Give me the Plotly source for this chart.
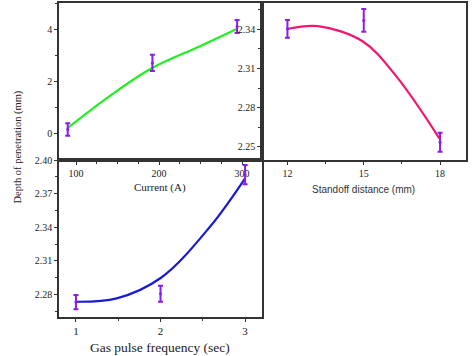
import plotly.graph_objects as go

# ---- data ----
# Panel 1: Current (A)
cur_pts_x = [90, 192, 294]
cur_pts_y = [0.165, 2.71, 4.10]
cur_err = [0.24, 0.31, 0.25]
cur_fit_x = [89.5, 140.9, 191.1, 249.3, 293.5]
cur_fit_y = [0.211, 1.45, 2.504, 3.35, 4.006]

# Panel 2: Standoff distance (mm)
sod_pts_x = [12, 15, 18]
sod_pts_y = [2.3403, 2.3467, 2.2536]
sod_err = [0.0068, 0.0087, 0.0073]
sod_fit_x = [12.0, 13.2, 14.98, 16.29, 17.97]
sod_fit_y = [2.3401, 2.3423, 2.3304, 2.3037, 2.2566]

# Panel 3: Gas pulse frequency (sec)
gpf_pts_x = [1, 2, 3]
gpf_pts_y = [2.2733, 2.2808, 2.3869]
gpf_err = [0.0064, 0.0071, 0.0086]
gpf_fit_x = [1.0, 1.482, 2.006, 2.585, 3.0]
gpf_fit_y = [2.2736, 2.2766, 2.2950, 2.3405, 2.3837]

cur_ticks = [100, 200, 300]
sod_ticks = [12, 15, 18]
gpf_ticks = [1, 2, 3]
p1_yticks = [0, 2, 4]
p2_yticks = [2.25, 2.28, 2.31, 2.34]
p3_yticks = [2.28, 2.31, 2.34, 2.37, 2.40]

ERR_COLOR = "#8a1cf0"
W, H = 474, 356

def px_x(p):
    return p / W

def px_y(p):
    return 1 - p / H

fig = go.Figure()

def add_panel(fx, fy, px, py, err, color, xa, ya):
    fig.add_trace(go.Scatter(x=fx, y=fy, mode="lines",
                             line=dict(color=color, width=2.2, shape="spline", smoothing=1.0),
                             xaxis=xa, yaxis=ya, hoverinfo="skip"))
    fig.add_trace(go.Scatter(x=px, y=py, mode="markers",
                             marker=dict(color=ERR_COLOR, size=3),
                             error_y=dict(type="data", array=err, visible=True, color=ERR_COLOR,
                                          thickness=2, width=2.5),
                             xaxis=xa, yaxis=ya))

add_panel(cur_fit_x, cur_fit_y, cur_pts_x, cur_pts_y, cur_err, "#22ee22", "x", "y")
add_panel(sod_fit_x, sod_fit_y, sod_pts_x, sod_pts_y, sod_err, "#f5146e", "x2", "y2")
add_panel(gpf_fit_x, gpf_fit_y, gpf_pts_x, gpf_pts_y, gpf_err, "#1a1ad6", "x3", "y3")

tickfont = dict(family="Liberation Serif", size=10, color="#222")
AX = dict(showline=True, linecolor="#333", linewidth=1.5, mirror=True, ticks="outside",
          ticklen=3, tickwidth=1, tickcolor="#333", showgrid=False, zeroline=False,
          tickfont=tickfont, fixedrange=True, automargin=False)

x_left = [px_x(59), px_x(262)]
x_right = [px_x(262), px_x(465.5)]
y_top = [px_y(160), px_y(3)]
y_bot = [px_y(317), px_y(160)]

def label(text, x, y, font, angle=0):
    return dict(text=text, x=px_x(x), y=px_y(y), xref="paper", yref="paper",
                xanchor="center", yanchor="middle", showarrow=False,
                textangle=angle, font=font)

fig.update_layout(
    width=W, height=H, margin=dict(l=0, r=0, t=0, b=0),
    paper_bgcolor="white", plot_bgcolor="white", showlegend=False,
    xaxis=dict(AX, domain=x_left, anchor="y", range=[79.5, 324], tickvals=cur_ticks,
               minor=dict(dtick=25, tick0=0, ticks="outside", ticklen=2, tickcolor="#333")),
    yaxis=dict(AX, domain=y_top, anchor="x", range=[-1, 5], tickvals=p1_yticks,
               minor=dict(dtick=1, tick0=0, ticks="outside", ticklen=2, tickcolor="#333")),
    xaxis2=dict(AX, domain=x_right, anchor="y2", range=[11, 19], tickvals=sod_ticks,
                minor=dict(dtick=1.5, tick0=12, ticks="outside", ticklen=2, tickcolor="#333")),
    yaxis2=dict(AX, domain=y_top, anchor="x2", range=[2.24, 2.36], tickvals=p2_yticks,
                tickformat=".2f",
                minor=dict(dtick=0.015, tick0=2.25, ticks="outside", ticklen=2, tickcolor="#333")),
    xaxis3=dict(AX, domain=x_left, anchor="y3", range=[0.8, 3.2], tickvals=gpf_ticks,
                tickfont=dict(family="Liberation Serif", size=11, color="#222"),
                minor=dict(dtick=0.5, tick0=1, ticks="outside", ticklen=2, tickcolor="#333")),
    yaxis3=dict(AX, domain=y_bot, anchor="x3", range=[2.26, 2.40], tickvals=p3_yticks,
                tickformat=".2f",
                minor=dict(dtick=0.015, tick0=2.28, ticks="outside", ticklen=2, tickcolor="#333")),
    annotations=[
        label("Current (A)", 159.5, 187.3, dict(family="Liberation Serif", size=11, color="#222")),
        label("Standoff distance (mm)", 363, 189.3, dict(family="Liberation Sans", size=10, color="#333")),
        label("Gas pulse frequency (sec)", 160, 347, dict(family="Liberation Serif", size=13.5, color="#222")),
        label("Depth of penetration (mm)", 17.5, 147, dict(family="Liberation Serif", size=10.5, color="#222"), -90),
    ],
)

fig.write_html("out.html", config={"displayModeBar": False},
               post_script="document.body.style.margin='0';document.body.style.overflow='hidden';")
